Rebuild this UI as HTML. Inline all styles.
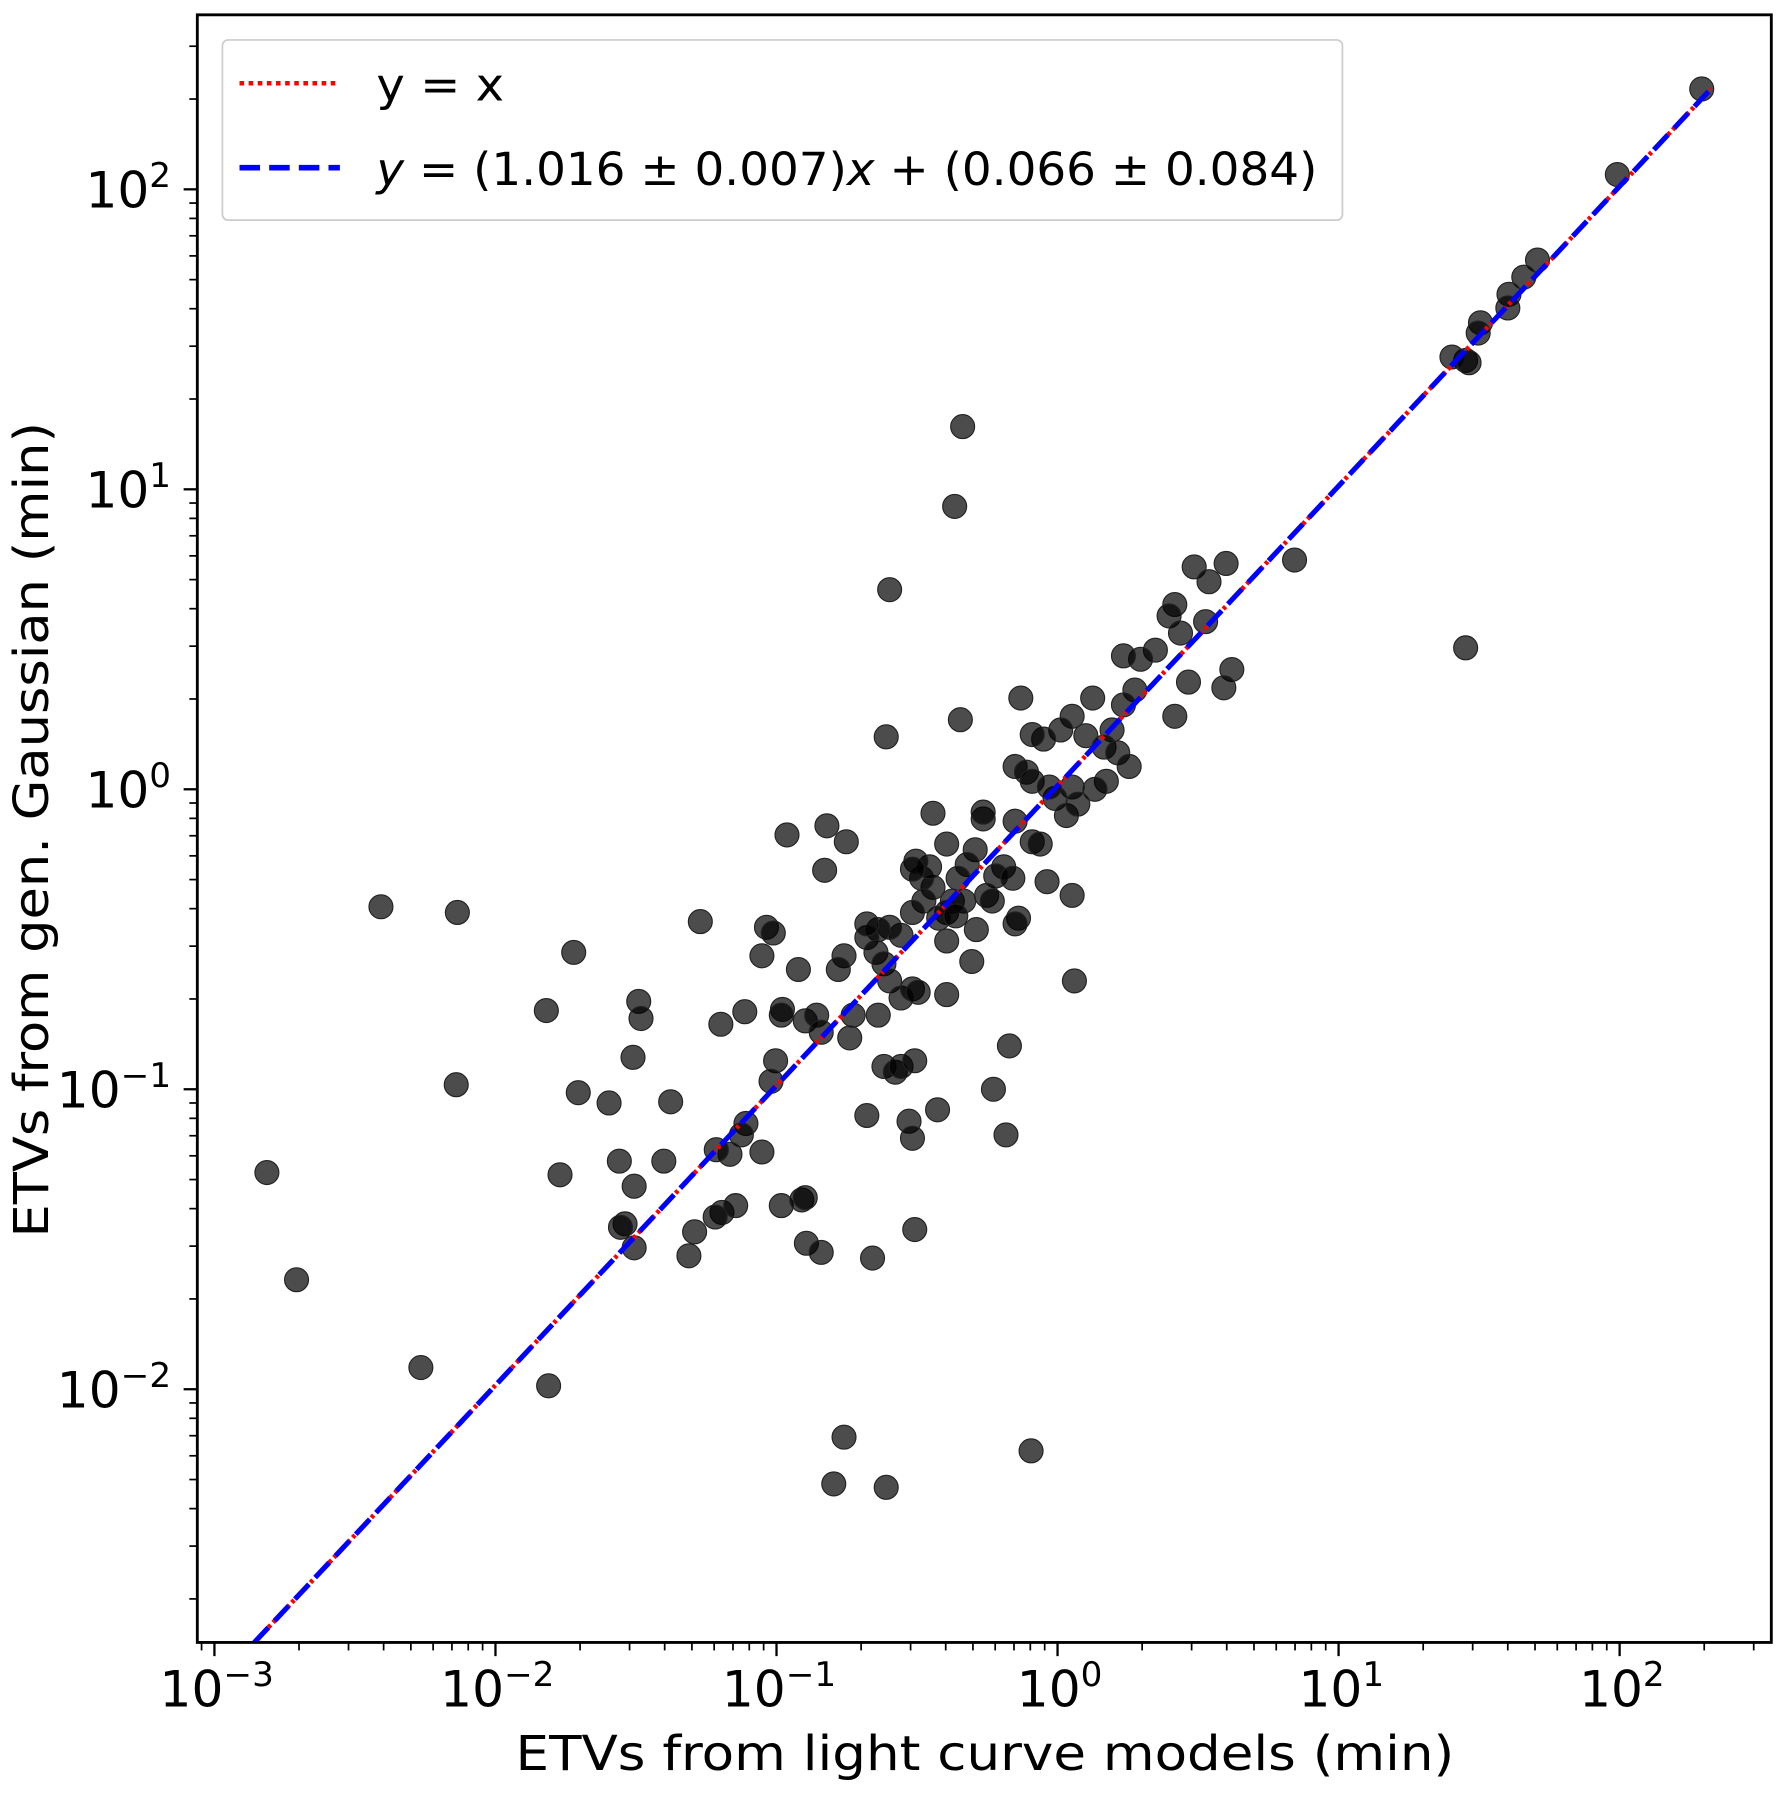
<!DOCTYPE html>
<html><head><meta charset="utf-8"><style>
html,body{margin:0;padding:0;background:#fff;}
svg{display:block;}
text{font-family:"DejaVu Sans","Liberation Sans",sans-serif;fill:#000;}
</style></head><body>
<svg id="s" width="1785" height="1793" viewBox="0 0 1565 1572" preserveAspectRatio="none" xmlns="http://www.w3.org/2000/svg">
<defs><clipPath id="c"><rect x="173" y="13" width="1380" height="1427"/></clipPath></defs>
<rect x="0" y="0" width="1565" height="1572" fill="#fff"/>
<g id="pts" clip-path="url(#c)"></g>
<g clip-path="url(#c)">
<line x1="223" y1="1440" x2="1500" y2="78" stroke="red" stroke-width="4" stroke-dasharray="3,3"/>
<line x1="223" y1="1440" x2="1500" y2="78" stroke="#0000ff" stroke-width="4.5" stroke-dasharray="18,8"/>
</g>
<g id="ticks" stroke="#000" stroke-width="1.5"></g>
<rect x="173" y="13" width="1380" height="1427" fill="none" stroke="#000" stroke-width="2.5"/>
<rect x="195" y="35" width="982" height="158" rx="5" fill="#fff" fill-opacity="0.85" stroke="#ccc" stroke-width="1.5"/>
<line x1="210" y1="73" x2="298" y2="73" stroke="red" stroke-width="4" stroke-dasharray="4,4"/>
<line x1="210" y1="147" x2="298" y2="147" stroke="#0000ff" stroke-width="5" stroke-dasharray="18,8"/>
<text x="330" y="88" font-size="40" textLength="112" lengthAdjust="spacingAndGlyphs">y = x</text>
<text x="330" y="162" font-size="40" textLength="825" lengthAdjust="spacingAndGlyphs"><tspan font-style="italic">y</tspan> = (1.016 ± 0.007)<tspan font-style="italic">x</tspan> + (0.066 ± 0.084)</text>
<g font-size="44" text-anchor="middle">
<text x="190" y="1496">10<tspan dy="-18" font-size="30">−3</tspan></text>
<text x="436" y="1496">10<tspan dy="-18" font-size="30">−2</tspan></text>
<text x="683" y="1496">10<tspan dy="-18" font-size="30">−1</tspan></text>
<text x="929" y="1496">10<tspan dy="-18" font-size="30">0</tspan></text>
<text x="1176" y="1496">10<tspan dy="-18" font-size="30">1</tspan></text>
<text x="1422" y="1496">10<tspan dy="-18" font-size="30">2</tspan></text>
</g>
<g font-size="44" text-anchor="end">
<text x="150" y="182">10<tspan dy="-18" font-size="30">2</tspan></text>
<text x="150" y="445">10<tspan dy="-18" font-size="30">1</tspan></text>
<text x="150" y="708">10<tspan dy="-18" font-size="30">0</tspan></text>
<text x="150" y="971">10<tspan dy="-18" font-size="30">−1</tspan></text>
<text x="150" y="1234">10<tspan dy="-18" font-size="30">−2</tspan></text>
</g>
<text x="452" y="1552" font-size="42" textLength="823" lengthAdjust="spacingAndGlyphs">ETVs from light curve models (min)</text>
<text transform="translate(42,1085) rotate(-90)" font-size="42" textLength="715" lengthAdjust="spacingAndGlyphs">ETVs from gen. Gaussian (min)</text>
</svg>
<script>
var NS="http://www.w3.org/2000/svg";
var P=[[1492,78],[1418,153],[1348,228],[1336,243],[1323,258],[1322,270],[1298,283],[1296,292],[1285,316],[1273,313],[1288,318],[1285,568],[844,374],[837,444],[1135,491],[1075,494],[1047,497],[1060,510],[1030,530],[1057,545],[1025,540],[1035,555],[1013,570],[1080,587],[1073,603],[1042,598],[1030,628],[1000,578],[985,575],[995,605],[985,618],[958,612],[940,628],[952,645],[930,640],[975,640],[968,655],[980,660],[990,672],[970,685],[895,612],[915,648],[842,631],[777,646],[780,517],[905,644],[890,672],[900,677],[905,685],[940,690],[960,692],[925,700],[935,715],[945,705],[920,690],[890,720],[905,738],[880,760],[873,768],[865,785],[870,790],[888,770],[893,805],[890,810],[912,740],[918,773],[940,785],[942,860],[862,718],[862,712],[855,745],[848,758],[840,770],[835,790],[830,800],[823,805],[818,778],[808,770],[815,760],[803,755],[800,762],[818,713],[830,740],[845,790],[852,843],[856,815],[830,825],[838,803],[810,790],[800,800],[790,820],[780,813],[770,815],[760,822],[768,835],[775,845],[780,860],[790,875],[800,867],[805,870],[830,872],[760,810],[740,838],[735,850],[748,890],[745,910],[725,724],[723,763],[742,738],[690,732],[672,813],[678,818],[668,838],[700,850],[686,885],[706,895],[716,890],[685,890],[720,905],[775,935],[785,940],[790,935],[802,930],[770,890],[760,978],[797,983],[800,998],[822,973],[802,1078],[871,955],[882,995],[885,917],[680,930],[676,948],[668,1010],[654,985],[650,995],[640,1012],[628,1008],[633,1063],[645,1057],[685,1057],[703,1052],[707,1090],[720,1098],[706,1050],[765,1103],[740,1260],[731,1301],[777,1304],[904,1272],[614,808],[632,898],[653,887],[560,878],[562,893],[555,927],[588,966],[534,967],[507,958],[479,886],[503,835],[543,1018],[556,1040],[548,1073],[544,1076],[556,1094],[582,1018],[604,1101],[609,1080],[627,1067],[491,1030],[481,1215],[369,1199],[400,951],[401,800],[334,795],[234,1028],[260,1122]];
var g=document.getElementById("pts");
P.forEach(function(p){var c=document.createElementNS(NS,"circle");c.setAttribute("cx",p[0]);c.setAttribute("cy",p[1]);c.setAttribute("r",10.5);c.setAttribute("fill","rgba(0,0,0,0.7)");c.setAttribute("stroke","#222");c.setAttribute("stroke-width","1");g.appendChild(c);});
var t=document.getElementById("ticks");
function L(a,b,c,d,w){var l=document.createElementNS(NS,"line");l.setAttribute("x1",a);l.setAttribute("y1",b);l.setAttribute("x2",c);l.setAttribute("y2",d);l.setAttribute("stroke-width",w);t.appendChild(l);}
for(var e=-4;e<=3;e++){for(var m=1;m<10;m++){var lg=e+Math.log10(m);
 var x=188+246.4*(lg+3);
 if(x>=173&&x<=1553){ if(m==1)L(x,1440,x,1452,2);else L(x,1440,x,1447,1.5);}
 var y=692-263*lg;
 if(y>=13&&y<=1440){ if(m==1)L(173,y,161,y,2);else L(173,y,166,y,1.5);}
}}
</script>
</body></html>
